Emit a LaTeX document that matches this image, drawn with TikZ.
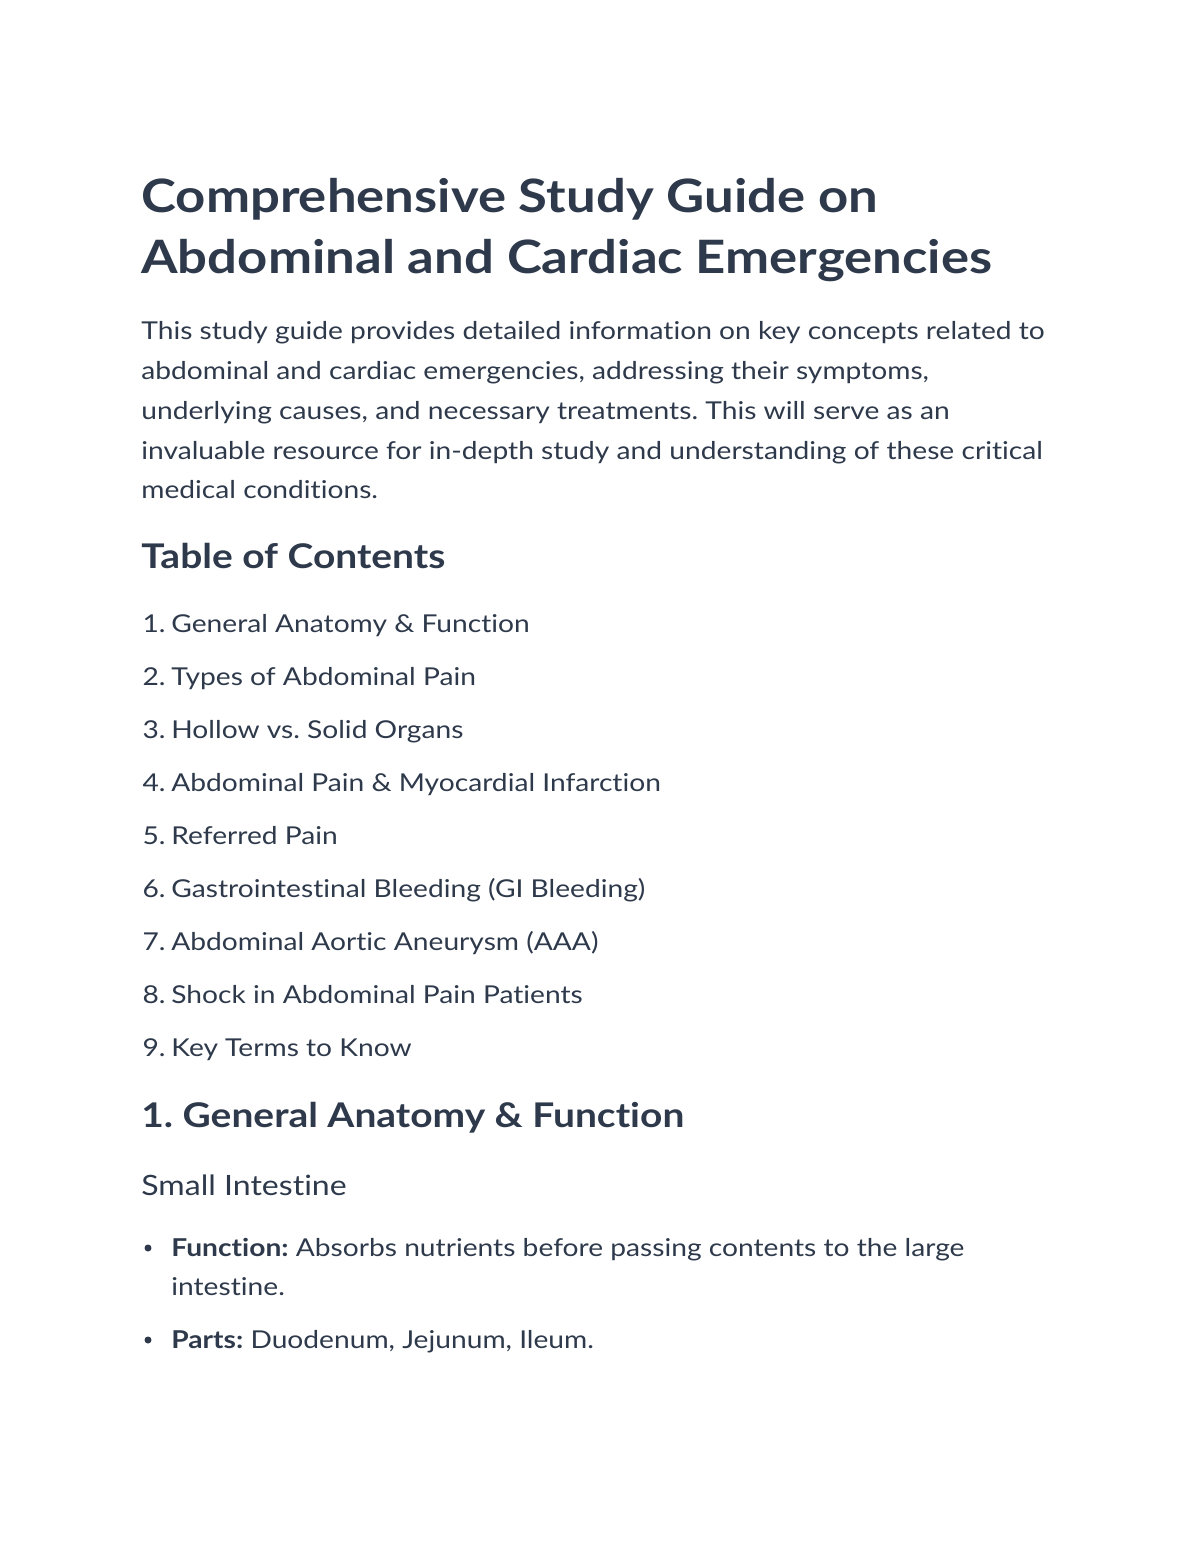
\documentclass[tikz,border=0pt]{standalone}
\usepackage{fontspec}
\setmainfont[FakeStretch=1.145, Ligatures=NoCommon]{Lato}
\definecolor{inkgray}{HTML}{2E3A4B}
\tikzset{
  txt/.style = {anchor = base west, inner sep = 0pt, text = inkgray},
  title/.style = {txt, font = \fontsize{23}{28}\selectfont\bfseries},
  head/.style = {txt, font = \fontsize{17}{21}\selectfont\bfseries},
  subhead/.style = {txt, font = \fontsize{14}{18}\selectfont},
  body/.style = {txt, font = \fontsize{12.3}{16}\selectfont},
  tocnum/.style = {anchor = base east, inner sep = 0pt, text = inkgray, font = \fontsize{12.3}{16}\selectfont},
}
\frenchspacing
\begin{document}
\begin{tikzpicture}[x = 0.5pt, y = -0.5pt]
    \useasboundingbox[fill = white] (0,0) rectangle (1200,1553);
    % title
    \node[title] (t1) at (141,212) {Comprehensive Study Guide on};
    \node[title] (t2) at (141,273) {Abdominal and Cardiac Emergencies};
    % intro
    \node[body] (p1) at (141,339) {This study guide provides detailed information on key concepts related to};
    \node[body] (p2) at (141,379) {abdominal and cardiac emergencies, addressing their symptoms,};
    \node[body] (p3) at (141,419) {underlying causes, and necessary treatments. This will serve as an};
    \node[body] (p4) at (141,459) {invaluable resource for in-depth study and understanding of these critical};
    \node[body] (p5) at (141,498) {medical conditions.};
    % contents
    \node[head] (toc) at (141,568) {Table of Contents};
    \foreach \n/\item [count = \i] in {1/General Anatomy \& Function, 2/Types of Abdominal Pain,
        3/Hollow vs. Solid Organs, 4/Abdominal Pain \& Myocardial Infarction, 5/Referred Pain,
        6/Gastrointestinal Bleeding (GI Bleeding), 7/Abdominal Aortic Aneurysm (AAA),
        8/Shock in Abdominal Pain Patients, 9/Key Terms to Know} {
        \node[tocnum] (num\i) at (166,580+52.9*\i) {\n.};
        \node[body] (item\i) at (171,580+52.9*\i) {\item};
    }
    % section 1
    \node[head] (s1) at (141,1127) {1. General Anatomy \& Function};
    \node[subhead] (s1a) at (141,1195) {Small Intestine};
    \fill[inkgray] (148,1248) circle[radius = 3.5];
    \node[body] (b1) at (171,1256) {\textbf{Function:} Absorbs nutrients before passing contents to the large};
    \node[body] (b1b) at (171,1295) {intestine.};
    \fill[inkgray] (148,1340) circle[radius = 3.5];
    \node[body] (b2) at (171,1348) {\textbf{Parts:} Duodenum, Jejunum, Ileum.};
\end{tikzpicture}
\end{document}
